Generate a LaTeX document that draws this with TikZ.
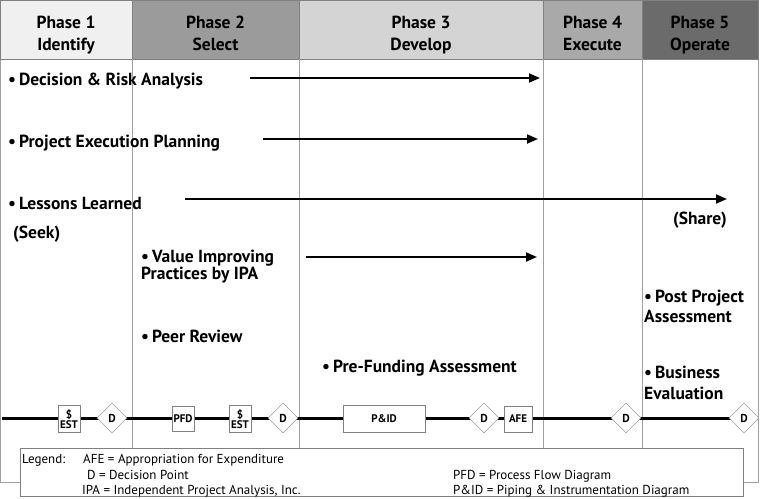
\documentclass[tikz,border=0pt]{standalone}
\usepackage{fontspec}
\setmainfont{PT Sans}
\usetikzlibrary{shapes.geometric,arrows.meta}

\definecolor{phaseone}{HTML}{F0F0F0}
\definecolor{phasetwo}{HTML}{9B9B9B}
\definecolor{phasethree}{HTML}{D4D4D4}
\definecolor{phasefour}{HTML}{A9A9A9}
\definecolor{phasefive}{HTML}{6B6B6B}
\definecolor{rule}{HTML}{A0A0A0}

\tikzset{
  phasehead/.style={draw=gray, minimum height=59pt, inner sep=0pt},
  phasetext/.style={inner sep=0pt, align=center, font=\bfseries\fontsize{17.5}{22}\selectfont},
  colline/.style={draw=rule, line width=1pt},
  item/.style={anchor=base west, inner sep=0pt, align=left,
    font=\bfseries\fontsize{17.5}{19}\selectfont},
  reach/.style={line width=1.8pt, -{Triangle[length=11pt,width=9pt]}},
  timeline/.style={line width=3pt},
  docbox/.style={draw=gray, fill=white, minimum width=22pt, minimum height=26pt,
    inner sep=1pt, align=center, font=\bfseries\fontsize{11}{10.5}\selectfont},
  decision/.style={diamond, draw=gray, fill=white, minimum width=30pt, minimum height=30pt,
    inner sep=0pt, font=\bfseries\fontsize{11.5}{11}\selectfont},
  legendtext/.style={anchor=base west, inner sep=0pt, font=\fontsize{13}{13}\selectfont}
}

\begin{document}
\begin{tikzpicture}[x=1pt,y=-1pt]

\useasboundingbox (0,0) rectangle (760,498);

\draw[colline] (0,0) rectangle (758,482);

\foreach \n/\x/\w/\c/\t in {1/66/132/phaseone/Identify, 2/215.5/167/phasetwo/Select,
    3/421/244/phasethree/Develop, 4/592.5/99/phasefour/Execute, 5/700/116/phasefive/Operate}
{
    \node[phasehead, fill=\c, minimum width=\w pt] (ph\n) at (\x,29.5) {};
    \node[phasetext] (pt\n) at ([yshift=-6pt]ph\n.center) {\strut Phase \n\\\strut\t};
}

\node[draw=gray, fill=white, minimum width=723pt, minimum height=48pt, anchor=north west,
    inner sep=0pt] (legend) at (20,448) {};

\foreach \n in {1,...,4}
{
    \draw[colline] (ph\n.south east) -- (ph\n.south east |- legend.north);
}

\node[item] (dra) at (8,85) {•\,Decision \& Risk Analysis};
\node[item] (pep) at (8,147) {•\,Project Execution Planning};
\node[item] (ll) at (8,209) {•\,Lessons Learned};
\node[item] (seek) at (13,238) {(Seek)};
\node[item, anchor=base east] (share) at (727,224) {(Share)};
\node[item, font=\bfseries\fontsize{17.5}{17}\selectfont] (vip) at (141,279) {•\,Value Improving\\Practices by IPA};
\node[item] (peer) at (141,342) {•\,Peer Review};
\node[item] (pfa) at (322,372) {•\,Pre-Funding Assessment};
\node[item, font=\bfseries\fontsize{17.5}{20}\selectfont] (ppa) at (644,322) {•\,Post Project\\Assessment};
\node[item, font=\bfseries\fontsize{17.5}{21}\selectfont] (be) at (644,399) {•\,Business\\Evaluation};

\coordinate (draS) at (250,78);
\coordinate (draE) at (540,78);
\coordinate (pepS) at (263,139);
\coordinate (pepE) at (538,139);
\coordinate (llS) at (185,199);
\coordinate (llE) at (727,199);
\coordinate (vipS) at (306,257);
\coordinate (vipE) at (537,257);

\foreach \v in {dra,pep,ll,vip}
{
    \draw[reach] (\v S) -- (\v E);
}

\coordinate (tlS) at (2,418);
\coordinate (tlE) at (758,418);
\draw[timeline] (tlS) -- (tlE);

\node[docbox, minimum height=27pt] (est1) at (69,419) {\$\\EST};
\node[decision] (d1) at (112,418) {D};
\node[docbox, minimum height=25pt] (pfd) at (183,419) {PFD};
\node[docbox, minimum height=27pt] (est2) at (240,419) {\$\\EST};
\node[decision] (d2) at (283,418) {D};
\node[docbox, minimum width=82pt, minimum height=27pt] (pid) at (384,419) {P\&ID};
\node[decision] (d3) at (484,418) {D};
\node[docbox, minimum width=28pt] (afe) at (518,419) {AFE};
\node[decision] (d4) at (626,418) {D};
\node[decision] (d5) at (744,418) {D};

\node[legendtext] (lg) at (22,463) {Legend:};
\node[legendtext] (lafe) at (83,463) {AFE = Appropriation for Expenditure};
\node[legendtext] (ld) at (87,479) {D = Decision Point};
\node[legendtext] (lipa) at (82,494) {IPA = Independent Project Analysis, Inc.};
\node[legendtext] (lpfd) at (453,479) {PFD = Process Flow Diagram};
\node[legendtext] (lpid) at (453,494) {P\&ID = Piping \& Instrumentation Diagram};

\end{tikzpicture}
\end{document}
